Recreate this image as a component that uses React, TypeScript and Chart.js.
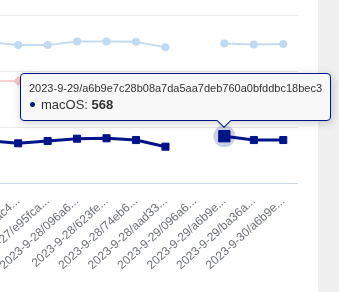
import React, { useEffect, useRef } from "react";
import { Chart, registerables } from "chart.js";

Chart.register(...registerables);

const categories: string[] = [
  "2023-9-27/3f8d1",
  "2023-9-27/0eac4",
  "2023-9-27/e95fca",
  "2023-9-28/096a6",
  "2023-9-28/623fe",
  "2023-9-28/74eb6",
  "2023-9-28/aad33",
  "2023-9-29/096a6",
  "2023-9-29/a6b9e7c28b08a7da5aa7deb760a0bfddbc18bec3",
  "2023-9-29/ba36a",
  "2023-9-30/a6b9e",
];

const windowsValues: (number | null)[] = [1709, 1675, 1675, 1718, 1718, 1715, 1647, null, 1694, 1681, 1687];
const linuxValues: (number | null)[] = [1238, 1238, 1240, 1236, 1242, 1239, 1235, null, 1240, 1237, 1238];
const macValues: (number | null)[] = [514, 482, 510, 538, 543, 522, 441, null, 568, 522, 522];

const seriesNames = ["Windows", "Linux", "macOS"];
const hoveredIndex = 8;

const yMin = 0;
const yMax = 2040;
const yStep = 680;

const NAVY = "#001489";
const FONT = "'Liberation Sans', Arial, sans-serif";

const measureCanvas = typeof document !== "undefined" ? document.createElement("canvas") : null;
function truncateLabel(label: string, maxWidth: number): string {
  const ctx = measureCanvas ? measureCanvas.getContext("2d") : null;
  if (!ctx) return label.slice(0, 15) + "...";
  ctx.font = `12px ${FONT}`;
  let s = label;
  while (s.length > 1 && ctx.measureText(s).width > maxWidth) s = s.slice(0, -1);
  return s + "...";
}

export default function App() {
  const canvasRef = useRef<HTMLCanvasElement | null>(null);
  const tipRef = useRef<HTMLDivElement | null>(null);

  useEffect(() => {
    const canvas = canvasRef.current;
    if (!canvas) return;
    const CANVAS_LEFT = -26;

    const haloPlugin = {
      id: "halo",
      beforeDatasetDraw(chart: any, args: any) {
        if (args.index !== 2) return;
        const ctx = chart.ctx;
        chart.getActiveElements().forEach((a: any) => {
          if (a.datasetIndex !== 2) return;
          ctx.save();
          ctx.beginPath();
          ctx.arc(a.element.x, a.element.y, 11, 0, Math.PI * 2);
          ctx.fillStyle = "rgba(0,20,137,0.2)";
          ctx.fill();
          ctx.restore();
        });
      },
    };

    const external = ({ tooltip }: any) => {
      const el = tipRef.current;
      if (!el) return;
      if (tooltip.opacity === 0 || !tooltip.dataPoints || !tooltip.dataPoints.length) {
        el.style.opacity = "0";
        return;
      }
      const dp = tooltip.dataPoints[0];
      const titleEl = el.querySelector(".tt-title") as HTMLElement;
      const nameEl = el.querySelector(".tt-name") as HTMLElement;
      const valEl = el.querySelector(".tt-val") as HTMLElement;
      titleEl.textContent = categories[dp.dataIndex];
      nameEl.textContent = dp.dataset.label + ": ";
      valEl.textContent = String(dp.raw);
      el.style.opacity = "1";
      const w = el.offsetWidth;
      const h = el.offsetHeight;
      const px = CANVAS_LEFT + tooltip.caretX;
      const py = tooltip.caretY;
      let left = px - w / 2;
      left = Math.max(8, Math.min(left, 339 - 8 - w));
      el.style.left = left + "px";
      el.style.top = py - h - 15 + "px";
      const arrow = el.querySelector(".tt-arrow") as HTMLElement;
      arrow.style.left = px - left - 6 + "px";
    };

    const chart = new Chart(canvas, {
      type: "line",
      data: {
        labels: categories,
        datasets: [
          {
            label: seriesNames[0],
            data: windowsValues,
            borderColor: "#c4dbf1",
            backgroundColor: "#c0daf2",
            borderWidth: 2,
            pointStyle: "circle",
            pointRadius: 4,
            pointBorderWidth: 0,
            pointBackgroundColor: "#c0daf2",
            tension: 0,
            spanGaps: false,
          },
          {
            label: seriesNames[1],
            data: linuxValues,
            borderColor: "#f8cfcf",
            backgroundColor: "#f6c6c6",
            borderWidth: 2,
            pointStyle: "rectRot",
            pointRadius: 5,
            pointBorderWidth: 0,
            pointBackgroundColor: "#f6c6c6",
            tension: 0,
            spanGaps: false,
          },
          {
            label: seriesNames[2],
            data: macValues,
            borderColor: NAVY,
            backgroundColor: NAVY,
            borderWidth: 3,
            pointStyle: "rect",
            pointRadius: 5,
            pointBorderWidth: 1,
            pointBorderColor: NAVY,
            pointBackgroundColor: NAVY,
            pointHoverRadius: 8,
            pointHoverBorderWidth: 1,
            pointHoverBorderColor: NAVY,
            pointHoverBackgroundColor: NAVY,
            tension: 0,
            spanGaps: false,
          },
        ],
      },
      options: {
        responsive: false,
        animation: false,
        events: [],
        devicePixelRatio: 1,
        layout: { autoPadding: false, padding: { top: 15, left: 0, right: 0, bottom: 0 } },
        plugins: {
          legend: { display: false },
          title: { display: false },
          tooltip: { enabled: false, mode: "nearest", intersect: true, external },
        },
        scales: {
          x: {
            offset: true,
            grid: { display: false, drawTicks: false },
            border: { display: true, color: "#cdd4e4", width: 1 },
            ticks: {
              autoSkip: false,
              maxRotation: 42,
              minRotation: 42,
              padding: 11,
              color: "#6e7079",
              font: { family: FONT, size: 12 },
              callback: (_v: any, i: number) => truncateLabel(categories[i], 95),
            },
            afterFit: (s: any) => {
              s.height = 109;
              s.paddingLeft = 0;
              s.paddingRight = 0;
            },
          },
          y: {
            min: yMin,
            max: yMax,
            ticks: { display: false, stepSize: yStep },
            grid: { color: "#ebebeb", drawTicks: false },
            border: { display: false },
            afterFit: (s: any) => {
              s.width = 0;
              s.paddingTop = 0;
              s.paddingBottom = 0;
            },
          },
        },
      },
      plugins: [haloPlugin],
    } as any);

    const meta = chart.getDatasetMeta(2);
    const pt = meta.data[hoveredIndex] as any;
    const active = [{ datasetIndex: 2, index: hoveredIndex }];
    chart.setActiveElements(active);
    chart.tooltip?.setActiveElements(active, { x: pt.x, y: pt.y });
    chart.update();

    return () => {
      chart.destroy();
    };
  }, []);

  return (
    <div style={{ position: "fixed", left: 0, top: 0, width: 339, height: 292, overflow: "hidden", background: "#fff" }}>
      <div style={{ position: "absolute", left: 318, top: 0, width: 21, height: 292, background: "#f0f0f0" }} />
      <div style={{ position: "absolute", left: -26, top: 0, width: 324, height: 292 }}>
        <canvas ref={canvasRef} width={324} height={292} style={{ width: 324, height: 292, display: "block" }} />
      </div>
      <div
        ref={tipRef}
        style={{
          position: "absolute",
          left: 0,
          top: 0,
          opacity: 0,
          background: "#f8f8f8",
          border: `1px solid ${NAVY}`,
          borderRadius: 4,
          padding: "8px 8px 7px 8px",
          boxShadow: "rgba(0,0,0,0.2) 1px 2px 10px",
          fontFamily: FONT,
          color: "#333",
          whiteSpace: "nowrap",
          zIndex: 10,
        }}
      >
        <div className="tt-title" style={{ fontSize: 11, lineHeight: "13px" }} />
        <div style={{ fontSize: 13, lineHeight: "16px", marginTop: 2 }}>
          <span
            style={{
              display: "inline-block",
              width: 5,
              height: 5,
              borderRadius: "50%",
              background: NAVY,
              marginRight: 6,
              marginLeft: 1,
              verticalAlign: "middle",
              position: "relative",
              top: -1,
            }}
          />
          <span className="tt-name" />
          <span className="tt-val" style={{ fontWeight: "bold" }} />
        </div>
        <div
          className="tt-arrow"
          style={{
            position: "absolute",
            bottom: -6,
            width: 9,
            height: 9,
            background: "#f8f8f8",
            borderRight: `1px solid ${NAVY}`,
            borderBottom: `1px solid ${NAVY}`,
            transform: "rotate(45deg)",
          }}
        />
      </div>
    </div>
  );
}
